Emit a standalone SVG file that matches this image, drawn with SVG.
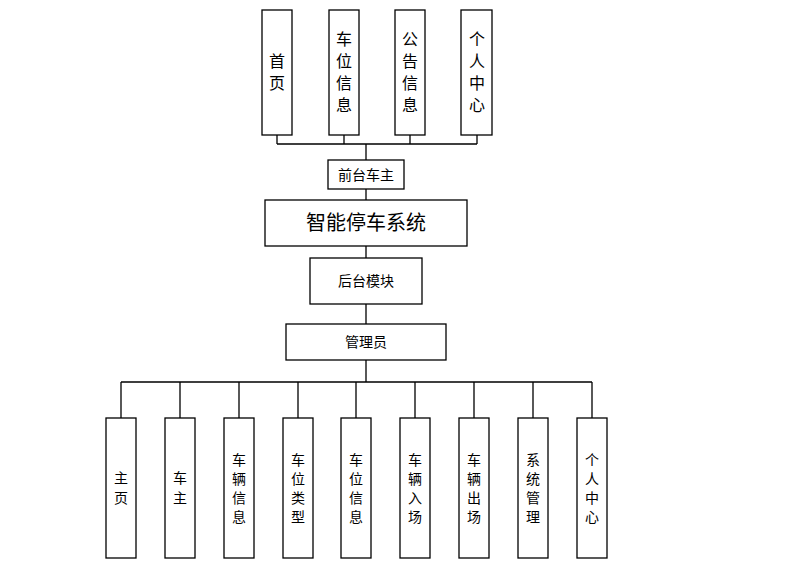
<svg xmlns="http://www.w3.org/2000/svg" width="802" height="585" viewBox="0 0 802 585">
<style>
.b{fill:#fff;stroke:#000;stroke-width:1.3}
.t{font-family:"Noto Sans CJK SC","Liberation Sans",sans-serif;fill:#000;text-anchor:middle}
.s{font-size:16px}
.m{font-size:14px}
.l{font-size:20px}
.v{font-size:14px}
.c{fill:none;stroke:#000;stroke-width:1.3}
</style>
<rect width="802" height="585" fill="#fff"/>
<g id="connectors">
<path class="c" d="M277 135V144M344 135V144M410 135V144M477 135V144M277 144H477M366 144V160M366 189V200M366 246V258M366 304V324M366 360V382M121 382H592M121 382V418M180 382V418M239 382V418M298 382V418M356 382V418M415 382V418M474 382V418M533 382V418M592 382V418"/>
</g>
<g id="n1"><rect class="b" x="262" y="10" width="30" height="125"/><text class="t s" x="277" y="67">首</text><text class="t s" x="277" y="89">页</text></g>
<g id="n2"><rect class="b" x="329" y="10" width="30" height="125"/><text class="t s" x="344" y="45">车</text><text class="t s" x="344" y="67">位</text><text class="t s" x="344" y="89">信</text><text class="t s" x="344" y="111">息</text></g>
<g id="n3"><rect class="b" x="395" y="10" width="30" height="125"/><text class="t s" x="410" y="45">公</text><text class="t s" x="410" y="67">告</text><text class="t s" x="410" y="89">信</text><text class="t s" x="410" y="111">息</text></g>
<g id="n4"><rect class="b" x="461" y="10" width="31" height="125"/><text class="t s" x="477" y="45">个</text><text class="t s" x="477" y="67">人</text><text class="t s" x="477" y="89">中</text><text class="t s" x="477" y="111">心</text></g>
<g id="front"><rect class="b" x="328" y="160" width="76" height="29"/><text class="t m" x="366" y="180">前台车主</text></g>
<g id="sys"><rect class="b" x="265" y="200" width="202" height="46"/><text class="t l" x="366" y="230">智能停车系统</text></g>
<g id="back"><rect class="b" x="310" y="258" width="112" height="46"/><text class="t m" x="366" y="286">后台模块</text></g>
<g id="admin"><rect class="b" x="286" y="324" width="160" height="36"/><text class="t m" x="366" y="347">管理员</text></g>
<g id="b1"><rect class="b" x="106" y="418" width="30" height="140"/><text class="t v" x="121" y="483">主</text><text class="t v" x="121" y="503">页</text></g>
<g id="b2"><rect class="b" x="165" y="418" width="30" height="140"/><text class="t v" x="180" y="483">车</text><text class="t v" x="180" y="503">主</text></g>
<g id="b3"><rect class="b" x="224" y="418" width="30" height="140"/><text class="t v" x="239" y="465">车</text><text class="t v" x="239" y="484">辆</text><text class="t v" x="239" y="503">信</text><text class="t v" x="239" y="522">息</text></g>
<g id="b4"><rect class="b" x="283" y="418" width="30" height="140"/><text class="t v" x="298" y="465">车</text><text class="t v" x="298" y="484">位</text><text class="t v" x="298" y="503">类</text><text class="t v" x="298" y="522">型</text></g>
<g id="b5"><rect class="b" x="341" y="418" width="30" height="140"/><text class="t v" x="356" y="465">车</text><text class="t v" x="356" y="484">位</text><text class="t v" x="356" y="503">信</text><text class="t v" x="356" y="522">息</text></g>
<g id="b6"><rect class="b" x="400" y="418" width="30" height="140"/><text class="t v" x="415" y="465">车</text><text class="t v" x="415" y="484">辆</text><text class="t v" x="415" y="503">入</text><text class="t v" x="415" y="522">场</text></g>
<g id="b7"><rect class="b" x="459" y="418" width="30" height="140"/><text class="t v" x="474" y="465">车</text><text class="t v" x="474" y="484">辆</text><text class="t v" x="474" y="503">出</text><text class="t v" x="474" y="522">场</text></g>
<g id="b8"><rect class="b" x="518" y="418" width="30" height="140"/><text class="t v" x="533" y="465">系</text><text class="t v" x="533" y="484">统</text><text class="t v" x="533" y="503">管</text><text class="t v" x="533" y="522">理</text></g>
<g id="b9"><rect class="b" x="577" y="418" width="30" height="140"/><text class="t v" x="592" y="465">个</text><text class="t v" x="592" y="484">人</text><text class="t v" x="592" y="503">中</text><text class="t v" x="592" y="522">心</text></g>
</svg>
